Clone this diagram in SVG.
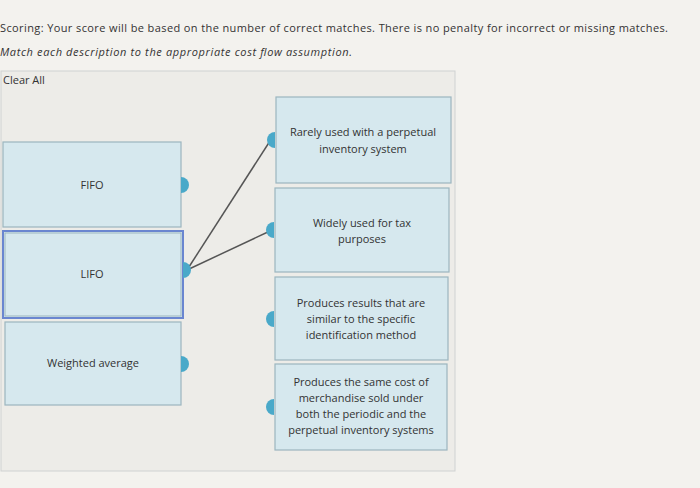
<svg xmlns="http://www.w3.org/2000/svg" width="700" height="488" viewBox="0 0 700 488">
<style>
text{font-family:"Open Sans","DejaVu Sans",sans-serif;fill:#333;font-size:11px}
.b{fill:#d6e8ee;stroke:#9bb5bf;stroke-width:1.2}
.h{fill:#4aa9c9}
.c{stroke:#555;stroke-width:1.5;fill:none}
</style>
<rect width="700" height="488" fill="#f3f2ee"/>
<text x="0" y="32" font-size="11.5" textLength="668" lengthAdjust="spacing">Scoring: Your score will be based on the number of correct matches. There is no penalty for incorrect or missing matches.</text>
<text x="0" y="56" font-size="11.5" font-style="italic" textLength="352" lengthAdjust="spacing">Match each description to the appropriate cost flow assumption.</text>
<rect x="1" y="71" width="454" height="400" fill="#edece8" stroke="#cfd2d2"/>
<text x="3" y="84">Clear All</text>
<g id="connectors">
<line class="c" x1="187" y1="270" x2="270" y2="141"/>
<line class="c" x1="187" y1="270" x2="270" y2="231"/>
</g>
<g id="fifo"><rect class="b" x="3" y="142" width="178" height="85"/><text x="92" y="189" text-anchor="middle">FIFO</text><path class="h" d="M181 177a8 8 0 0 1 0 16z"/></g>
<g id="lifo"><rect class="b" x="3" y="231" width="180" height="87" style="stroke:#6a86d0;stroke-width:2"/><rect x="5" y="233" width="176" height="83" fill="none" stroke="#9bb5bf"/><text x="92" y="278" text-anchor="middle">LIFO</text><path class="h" d="M183 262a8 8 0 0 1 0 16z"/></g>
<g id="weighted"><rect class="b" x="5" y="322" width="176" height="83"/><text x="93" y="367" text-anchor="middle">Weighted average</text><path class="h" d="M181 356a8 8 0 0 1 0 16z"/></g>
<g id="r1"><rect class="b" x="276" y="97" width="175" height="86"/><text x="363" y="136" text-anchor="middle">Rarely used with a perpetual</text><text x="363" y="153" text-anchor="middle">inventory system</text><path class="h" d="M275 132a8 8 0 0 0 0 16z"/></g>
<g id="r2"><rect class="b" x="275" y="188" width="174" height="84"/><text x="362" y="227" text-anchor="middle">Widely used for tax</text><text x="362" y="243" text-anchor="middle">purposes</text><path class="h" d="M274 222a8 8 0 0 0 0 16z"/></g>
<g id="r3"><rect class="b" x="275" y="277" width="173" height="83"/><text x="361" y="307" text-anchor="middle">Produces results that are</text><text x="361" y="323" text-anchor="middle">similar to the specific</text><text x="361" y="339" text-anchor="middle">identification method</text><path class="h" d="M274 311a8 8 0 0 0 0 16z"/></g>
<g id="r4"><rect class="b" x="275" y="364" width="172" height="86"/><text x="361" y="386" text-anchor="middle">Produces the same cost of</text><text x="361" y="402" text-anchor="middle">merchandise sold under</text><text x="361" y="418" text-anchor="middle">both the periodic and the</text><text x="361" y="434" text-anchor="middle">perpetual inventory systems</text><path class="h" d="M274 399a8 8 0 0 0 0 16z"/></g>
</svg>
